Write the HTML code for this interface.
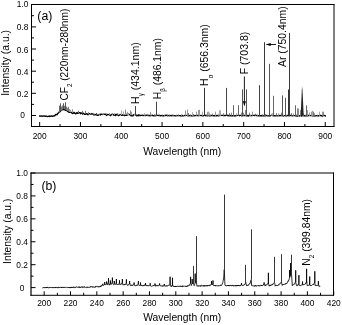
<!DOCTYPE html>
<html><head><meta charset="utf-8"><style>
html,body{margin:0;padding:0;background:#fff;}
svg{display:block;}
text{font-family:"Liberation Sans", Arial, sans-serif;fill:#000;}
</style></head><body>
<svg width="342" height="325" viewBox="0 0 342 325">
<rect width="342" height="325" fill="#fff"/>
<line x1="31.5" y1="4.0" x2="31.5" y2="127.0" stroke="#000" stroke-width="1"/>
<line x1="31.0" y1="4.5" x2="334.5" y2="4.5" stroke="#000" stroke-width="1"/>
<line x1="31.0" y1="126.5" x2="334.5" y2="126.5" stroke="#000" stroke-width="1"/>
<line x1="334.0" y1="4.0" x2="334.0" y2="127.0" stroke="#000" stroke-width="1.0"/>
<line x1="31.5" y1="115.5" x2="36.0" y2="115.5" stroke="#000" stroke-width="1"/>
<line x1="31.5" y1="104.4" x2="34.0" y2="104.4" stroke="#000" stroke-width="1"/>
<line x1="31.5" y1="93.3" x2="36.0" y2="93.3" stroke="#000" stroke-width="1"/>
<line x1="31.5" y1="82.2" x2="34.0" y2="82.2" stroke="#000" stroke-width="1"/>
<line x1="31.5" y1="71.2" x2="36.0" y2="71.2" stroke="#000" stroke-width="1"/>
<line x1="31.5" y1="60.1" x2="34.0" y2="60.1" stroke="#000" stroke-width="1"/>
<line x1="31.5" y1="49.0" x2="36.0" y2="49.0" stroke="#000" stroke-width="1"/>
<line x1="31.5" y1="37.9" x2="34.0" y2="37.9" stroke="#000" stroke-width="1"/>
<line x1="31.5" y1="26.9" x2="36.0" y2="26.9" stroke="#000" stroke-width="1"/>
<line x1="31.5" y1="15.7" x2="34.0" y2="15.7" stroke="#000" stroke-width="1"/>
<line x1="31.5" y1="4.5" x2="36.0" y2="4.5" stroke="#000" stroke-width="1"/>
<text x="22.6" y="118.05" font-size="8.4" text-anchor="middle">0</text>
<text x="22.6" y="96.75" font-size="8.4" text-anchor="middle">0.2</text>
<text x="22.6" y="74.75" font-size="8.4" text-anchor="middle">0.4</text>
<text x="22.6" y="52.6" font-size="8.4" text-anchor="middle">0.6</text>
<text x="22.6" y="30.45" font-size="8.4" text-anchor="middle">0.8</text>
<text x="22.6" y="7.45" font-size="8.4" text-anchor="middle">1.0</text>
<line x1="39.66" y1="126.5" x2="39.66" y2="122.0" stroke="#000" stroke-width="1"/>
<line x1="60.06" y1="126.5" x2="60.06" y2="124.0" stroke="#000" stroke-width="1"/>
<line x1="80.46" y1="126.5" x2="80.46" y2="122.0" stroke="#000" stroke-width="1"/>
<line x1="100.86" y1="126.5" x2="100.86" y2="124.0" stroke="#000" stroke-width="1"/>
<line x1="121.25999999999999" y1="126.5" x2="121.25999999999999" y2="122.0" stroke="#000" stroke-width="1"/>
<line x1="141.66" y1="126.5" x2="141.66" y2="124.0" stroke="#000" stroke-width="1"/>
<line x1="162.06" y1="126.5" x2="162.06" y2="122.0" stroke="#000" stroke-width="1"/>
<line x1="182.45999999999998" y1="126.5" x2="182.45999999999998" y2="124.0" stroke="#000" stroke-width="1"/>
<line x1="202.85999999999999" y1="126.5" x2="202.85999999999999" y2="122.0" stroke="#000" stroke-width="1"/>
<line x1="223.26" y1="126.5" x2="223.26" y2="124.0" stroke="#000" stroke-width="1"/>
<line x1="243.66" y1="126.5" x2="243.66" y2="122.0" stroke="#000" stroke-width="1"/>
<line x1="264.05999999999995" y1="126.5" x2="264.05999999999995" y2="124.0" stroke="#000" stroke-width="1"/>
<line x1="284.46" y1="126.5" x2="284.46" y2="122.0" stroke="#000" stroke-width="1"/>
<line x1="304.85999999999996" y1="126.5" x2="304.85999999999996" y2="124.0" stroke="#000" stroke-width="1"/>
<line x1="325.26" y1="126.5" x2="325.26" y2="122.0" stroke="#000" stroke-width="1"/>
<text x="39.66" y="138.6" font-size="8.4" text-anchor="middle">200</text>
<text x="80.46" y="138.6" font-size="8.4" text-anchor="middle">300</text>
<text x="121.25999999999999" y="138.6" font-size="8.4" text-anchor="middle">400</text>
<text x="162.06" y="138.6" font-size="8.4" text-anchor="middle">500</text>
<text x="202.85999999999999" y="138.6" font-size="8.4" text-anchor="middle">600</text>
<text x="243.66" y="138.6" font-size="8.4" text-anchor="middle">700</text>
<text x="284.46" y="138.6" font-size="8.4" text-anchor="middle">800</text>
<text x="325.26" y="138.6" font-size="8.4" text-anchor="middle">900</text>
<text x="182.2" y="154.5" font-size="10.3" text-anchor="middle">Wavelength (nm)</text>
<text x="9.4" y="62.9" font-size="10.4" text-anchor="middle" transform="rotate(-90 9.4 62.9)">Intensity (a.u.)</text>
<text x="37.3" y="19.8" font-size="12.3" text-anchor="start">(a)</text>
<line x1="31.0" y1="172.5" x2="31.0" y2="295.8" stroke="#000" stroke-width="1.2"/>
<line x1="30.5" y1="173.0" x2="334.0" y2="173.0" stroke="#000" stroke-width="1.0"/>
<line x1="30.5" y1="295.3" x2="334.0" y2="295.3" stroke="#000" stroke-width="1"/>
<line x1="333.5" y1="172.5" x2="333.5" y2="295.8" stroke="#000" stroke-width="1.0"/>
<line x1="31.0" y1="287.6" x2="35.5" y2="287.6" stroke="#000" stroke-width="1"/>
<line x1="31.0" y1="276.14000000000004" x2="33.5" y2="276.14000000000004" stroke="#000" stroke-width="1"/>
<line x1="31.0" y1="264.68" x2="35.5" y2="264.68" stroke="#000" stroke-width="1"/>
<line x1="31.0" y1="253.22000000000003" x2="33.5" y2="253.22000000000003" stroke="#000" stroke-width="1"/>
<line x1="31.0" y1="241.76000000000002" x2="35.5" y2="241.76000000000002" stroke="#000" stroke-width="1"/>
<line x1="31.0" y1="230.3" x2="33.5" y2="230.3" stroke="#000" stroke-width="1"/>
<line x1="31.0" y1="218.84000000000003" x2="35.5" y2="218.84000000000003" stroke="#000" stroke-width="1"/>
<line x1="31.0" y1="207.38000000000002" x2="33.5" y2="207.38000000000002" stroke="#000" stroke-width="1"/>
<line x1="31.0" y1="195.92000000000002" x2="35.5" y2="195.92000000000002" stroke="#000" stroke-width="1"/>
<line x1="31.0" y1="184.46000000000004" x2="33.5" y2="184.46000000000004" stroke="#000" stroke-width="1"/>
<line x1="31.0" y1="173.00000000000003" x2="35.5" y2="173.00000000000003" stroke="#000" stroke-width="1"/>
<text x="22.2" y="290.6" font-size="8.4" text-anchor="middle">0</text>
<text x="22.2" y="267.68" font-size="8.4" text-anchor="middle">0.2</text>
<text x="22.2" y="244.76000000000002" font-size="8.4" text-anchor="middle">0.4</text>
<text x="22.2" y="221.84000000000003" font-size="8.4" text-anchor="middle">0.6</text>
<text x="22.2" y="198.92000000000002" font-size="8.4" text-anchor="middle">0.8</text>
<text x="22.2" y="176.00000000000003" font-size="8.4" text-anchor="middle">1.0</text>
<line x1="44.2" y1="295.3" x2="44.2" y2="291.3" stroke="#000" stroke-width="1"/>
<line x1="57.36" y1="295.3" x2="57.36" y2="292.8" stroke="#000" stroke-width="1"/>
<line x1="70.52000000000001" y1="295.3" x2="70.52000000000001" y2="291.3" stroke="#000" stroke-width="1"/>
<line x1="83.68" y1="295.3" x2="83.68" y2="292.8" stroke="#000" stroke-width="1"/>
<line x1="96.84" y1="295.3" x2="96.84" y2="291.3" stroke="#000" stroke-width="1"/>
<line x1="110.0" y1="295.3" x2="110.0" y2="292.8" stroke="#000" stroke-width="1"/>
<line x1="123.16000000000001" y1="295.3" x2="123.16000000000001" y2="291.3" stroke="#000" stroke-width="1"/>
<line x1="136.32" y1="295.3" x2="136.32" y2="292.8" stroke="#000" stroke-width="1"/>
<line x1="149.48000000000002" y1="295.3" x2="149.48000000000002" y2="291.3" stroke="#000" stroke-width="1"/>
<line x1="162.64000000000001" y1="295.3" x2="162.64000000000001" y2="292.8" stroke="#000" stroke-width="1"/>
<line x1="175.8" y1="295.3" x2="175.8" y2="291.3" stroke="#000" stroke-width="1"/>
<line x1="188.96000000000004" y1="295.3" x2="188.96000000000004" y2="292.8" stroke="#000" stroke-width="1"/>
<line x1="202.12" y1="295.3" x2="202.12" y2="291.3" stroke="#000" stroke-width="1"/>
<line x1="215.28000000000003" y1="295.3" x2="215.28000000000003" y2="292.8" stroke="#000" stroke-width="1"/>
<line x1="228.44" y1="295.3" x2="228.44" y2="291.3" stroke="#000" stroke-width="1"/>
<line x1="241.60000000000002" y1="295.3" x2="241.60000000000002" y2="292.8" stroke="#000" stroke-width="1"/>
<line x1="254.76" y1="295.3" x2="254.76" y2="291.3" stroke="#000" stroke-width="1"/>
<line x1="267.92" y1="295.3" x2="267.92" y2="292.8" stroke="#000" stroke-width="1"/>
<line x1="281.08000000000004" y1="295.3" x2="281.08000000000004" y2="291.3" stroke="#000" stroke-width="1"/>
<line x1="294.24" y1="295.3" x2="294.24" y2="292.8" stroke="#000" stroke-width="1"/>
<line x1="307.4" y1="295.3" x2="307.4" y2="291.3" stroke="#000" stroke-width="1"/>
<line x1="320.56" y1="295.3" x2="320.56" y2="292.8" stroke="#000" stroke-width="1"/>
<line x1="333.72" y1="295.3" x2="333.72" y2="291.3" stroke="#000" stroke-width="1"/>
<text x="44.2" y="306.4" font-size="8.4" text-anchor="middle">200</text>
<text x="70.52000000000001" y="306.4" font-size="8.4" text-anchor="middle">220</text>
<text x="96.84" y="306.4" font-size="8.4" text-anchor="middle">240</text>
<text x="123.16000000000001" y="306.4" font-size="8.4" text-anchor="middle">260</text>
<text x="149.48000000000002" y="306.4" font-size="8.4" text-anchor="middle">280</text>
<text x="175.8" y="306.4" font-size="8.4" text-anchor="middle">300</text>
<text x="202.12" y="306.4" font-size="8.4" text-anchor="middle">320</text>
<text x="228.44" y="306.4" font-size="8.4" text-anchor="middle">340</text>
<text x="254.76" y="306.4" font-size="8.4" text-anchor="middle">360</text>
<text x="281.08000000000004" y="306.4" font-size="8.4" text-anchor="middle">380</text>
<text x="307.4" y="306.4" font-size="8.4" text-anchor="middle">400</text>
<text x="333.72" y="306.4" font-size="8.4" text-anchor="middle">420</text>
<text x="182.2" y="321.2" font-size="10.3" text-anchor="middle">Wavelength (nm)</text>
<text x="11.1" y="231.3" font-size="10.3" text-anchor="middle" transform="rotate(-90 11.1 231.3)">Intensity (a.u.)</text>
<text x="41.4" y="189.6" font-size="12.3" text-anchor="start">(b)</text>
<path d="M39.00,116.09 L39.50,116.00 L40.00,116.30 L40.50,115.96 L41.00,116.24 L41.50,116.14 L42.00,115.96 L42.50,116.24 L43.00,115.96 L43.50,116.20 L44.00,115.99 L44.50,116.00 L45.00,116.21 L45.50,116.46 L46.00,116.04 L46.50,116.10 L47.00,116.35 L47.50,116.55 L48.00,116.33 L48.50,116.22 L49.00,116.58 L49.50,116.02 L50.00,116.52 L50.50,116.14 L51.00,116.01 L51.50,115.96 L52.00,116.04 L52.50,116.30 L53.00,115.88 L53.50,116.09 L54.00,116.22 L54.50,115.56 L55.00,115.61 L55.50,114.60 L56.00,114.36 L56.50,114.36 L57.00,114.89 L57.50,113.91 L58.00,113.15 L58.50,113.01 L59.00,112.23 L59.50,111.50 L60.00,111.81 L60.50,111.18 L61.00,109.97 L61.50,110.02 L62.00,109.61 L62.50,109.87 L63.00,109.34 L63.50,108.56 L64.00,109.93 L64.50,108.81 L65.00,109.55 L65.50,110.35 L66.00,109.64 L66.50,110.45 L67.00,110.00 L67.50,111.27 L68.00,111.69 L68.50,111.65 L69.00,112.40 L69.50,111.64 L70.00,112.39 L70.50,112.36 L71.00,112.48 L71.50,112.42 L72.00,113.17 L72.50,113.47 L73.00,112.86 L73.50,113.19 L74.00,112.25 L74.50,113.31 L75.00,113.25 L75.50,113.83 L76.00,113.59 L76.50,112.76 L77.00,112.95 L77.50,113.43 L78.00,112.42 L78.50,113.15 L79.00,112.71 L79.50,112.66 L80.00,112.59 L80.50,113.77 L81.00,112.80 L81.50,113.03 L82.00,113.31 L82.50,114.12 L83.00,112.90 L83.50,113.53 L84.00,113.74 L84.50,114.32 L85.00,114.26 L85.50,114.38 L86.00,113.49 L86.50,113.75 L87.00,113.70 L87.50,114.59 L88.00,114.75 L88.50,113.51 L89.00,113.59 L89.50,113.73 L90.00,113.77 L90.50,114.21 L91.00,114.40 L91.50,113.91 L92.00,113.53 L92.50,114.22 L93.00,114.17 L93.50,114.52 L94.00,115.16 L94.50,114.77 L95.00,114.52 L95.50,114.72 L96.00,114.84 L96.50,113.88 L97.00,115.26 L97.50,115.10 L98.00,115.28 L98.50,115.19 L99.00,114.57 L99.50,114.61 L100.00,114.17 L100.50,115.02 L101.00,114.11 L101.50,114.12 L102.00,114.35 L102.50,114.28 L103.00,114.56 L103.50,114.11 L104.00,114.03 L104.50,114.27 L105.00,114.20 L105.50,114.62 L106.00,114.08 L106.50,115.44 L107.00,115.03 L107.50,114.29 L108.00,114.46 L108.50,114.61 L109.00,114.64 L109.50,114.26 L110.00,115.42 L110.50,115.66 L111.00,114.82 L111.50,114.85 L112.00,114.22 L112.50,114.25 L113.00,114.63 L113.50,114.51 L114.00,115.42 L114.50,114.35 L115.00,114.14 L115.50,115.62 L116.00,114.95 L116.50,114.33 L117.00,114.97 L117.50,114.14 L118.00,114.94 L118.50,115.67 L119.00,115.48 L119.50,115.21 L120.00,114.52 L120.50,114.69 L121.00,114.37 L121.50,115.34 L122.00,114.95 L122.50,115.35 L123.00,114.63 L123.50,114.46 L124.00,115.40 L124.50,115.68 L125.00,115.46 L125.50,115.40 L126.00,115.44 L126.50,115.32 L127.00,114.52 L127.50,114.99 L128.00,114.75 L128.50,114.24 L129.00,114.25 L129.50,114.67 L130.00,114.65 L130.50,115.35 L131.00,115.79 L131.50,114.99 L132.00,115.79 L132.50,115.88 L133.00,115.84 L133.50,114.91 L134.00,114.69 L134.50,114.72 L135.00,114.68 L135.50,114.71 L136.00,115.39 L136.50,115.85 L137.00,115.76 L137.50,115.20 L138.00,115.49 L138.50,115.74 L139.00,114.61 L139.50,115.54 L140.00,115.59 L140.50,115.51 L141.00,115.49 L141.50,115.31 L142.00,115.10 L142.50,115.54 L143.00,115.23 L143.50,115.56 L144.00,115.69 L144.50,115.29 L145.00,115.31 L145.50,115.70 L146.00,115.55 L146.50,115.17 L147.00,115.14 L147.50,115.17 L148.00,115.70 L148.50,115.64 L149.00,115.19 L149.50,115.67 L150.00,115.79 L150.50,115.57 L151.00,115.36 L151.50,115.51 L152.00,115.22 L152.50,115.15 L153.00,115.82 L153.50,115.61 L154.00,115.53 L154.50,115.82 L155.00,115.48 L155.50,115.79 L156.00,115.77 L156.50,115.35 L157.00,115.38 L157.50,115.42 L158.00,115.39 L158.50,115.64 L159.00,115.42 L159.50,115.54 L160.00,115.34 L160.50,115.89 L161.00,115.50 L161.50,115.57 L162.00,115.66 L162.50,115.88 L163.00,115.54 L163.50,115.89 L164.00,115.60 L164.50,115.62 L165.00,115.62 L165.50,115.26 L166.00,115.56 L166.50,115.38 L167.00,115.25 L167.50,115.81 L168.00,115.37 L168.50,115.58 L169.00,115.76 L169.50,115.64 L170.00,115.48 L170.50,115.61 L171.00,115.64 L171.50,115.80 L172.00,115.32 L172.50,115.64 L173.00,115.42 L173.50,115.44 L174.00,115.79 L174.50,115.61 L175.00,115.64 L175.50,115.78 L176.00,115.89 L176.50,115.56 L177.00,115.68 L177.50,115.60 L178.00,115.61 L178.50,115.73 L179.00,115.57 L179.50,115.62 L180.00,115.58 L180.50,115.91 L181.00,115.74 L181.50,115.86 L182.00,115.91 L182.50,115.43 L183.00,115.64 L183.50,115.91 L184.00,115.84 L184.50,115.35 L185.00,115.34 L185.50,115.56 L186.00,115.30 L186.50,115.42 L187.00,115.30 L187.50,115.72 L188.00,115.80 L188.50,115.88 L189.00,115.36 L189.50,115.75 L190.00,115.71 L190.50,115.35 L191.00,115.87 L191.50,115.93 L192.00,115.40 L192.50,115.92 L193.00,115.53 L193.50,115.59 L194.00,115.94 L194.50,115.83 L195.00,115.36 L195.50,115.55 L196.00,115.61 L196.50,115.49 L197.00,115.39 L197.50,115.47 L198.00,115.76 L198.50,115.26 L199.00,115.64 L199.50,115.56 L200.00,115.26 L200.50,115.48 L201.00,115.69 L201.50,115.61 L202.00,115.30 L202.50,115.94 L203.00,115.80 L203.50,115.93 L204.00,115.33 L204.50,115.44 L205.00,115.28 L205.50,115.80 L206.00,115.44 L206.50,115.35 L207.00,115.55 L207.50,115.89 L208.00,115.83 L208.50,115.44 L209.00,115.36 L209.50,115.90 L210.00,115.66 L210.50,115.75 L211.00,115.32 L211.50,115.30 L212.00,115.74 L212.50,115.56 L213.00,115.31 L213.50,115.92 L214.00,115.71 L214.50,115.82 L215.00,115.32 L215.50,115.86 L216.00,115.31 L216.50,115.87 L217.00,115.58 L217.50,115.50 L218.00,115.65 L218.50,115.91 L219.00,115.45 L219.50,115.36 L220.00,115.63 L220.50,115.43 L221.00,115.34 L221.50,115.38 L222.00,115.30 L222.50,115.41 L223.00,115.49 L223.50,115.48 L224.00,115.80 L224.50,115.47 L225.00,115.62 L225.50,115.39 L226.00,115.51 L226.50,115.28 L227.00,115.45 L227.50,115.28 L228.00,115.79 L228.50,115.66 L229.00,115.41 L229.50,115.61 L230.00,115.93 L230.50,115.35 L231.00,115.85 L231.50,115.58 L232.00,115.62 L232.50,115.86 L233.00,115.55 L233.50,115.63 L234.00,115.76 L234.50,115.97 L235.00,115.52 L235.50,115.86 L236.00,115.77 L236.50,115.72 L237.00,115.56 L237.50,115.52 L238.00,115.32 L238.50,115.37 L239.00,115.33 L239.50,115.80 L240.00,115.46 L240.50,115.40 L241.00,115.34 L241.50,115.87 L242.00,115.89 L242.50,115.75 L243.00,115.48 L243.50,115.45 L244.00,115.49 L244.50,115.61 L245.00,115.40 L245.50,115.60 L246.00,115.47 L246.50,115.96 L247.00,115.97 L247.50,115.67 L248.00,115.46 L248.50,115.96 L249.00,115.51 L249.50,115.54 L250.00,115.29 L250.50,115.56 L251.00,115.62 L251.50,115.64 L252.00,115.43 L252.50,115.64 L253.00,115.30 L253.50,115.48 L254.00,115.36 L254.50,115.57 L255.00,115.32 L255.50,115.31 L256.00,115.51 L256.50,115.46 L257.00,115.71 L257.50,115.67 L258.00,115.82 L258.50,115.76 L259.00,115.80 L259.50,115.91 L260.00,115.57 L260.50,115.53 L261.00,115.99 L261.50,115.40 L262.00,115.81 L262.50,115.75 L263.00,115.33 L263.50,115.89 L264.00,115.93 L264.50,115.74 L265.00,115.82 L265.50,115.87 L266.00,115.40 L266.50,115.67 L267.00,115.66 L267.50,115.89 L268.00,115.87 L268.50,115.88 L269.00,115.71 L269.50,115.93 L270.00,115.78 L270.50,115.79 L271.00,115.47 L271.50,115.33 L272.00,115.40 L272.50,115.56 L273.00,115.38 L273.50,115.89 L274.00,115.70 L274.50,115.75 L275.00,115.75 L275.50,115.79 L276.00,115.65 L276.50,115.31 L277.00,115.87 L277.50,115.84 L278.00,115.66 L278.50,115.69 L279.00,115.77 L279.50,115.36 L280.00,115.83 L280.50,115.49 L281.00,115.37 L281.50,115.50 L282.00,115.83 L282.50,115.46 L283.00,115.83 L283.50,116.00 L284.00,115.66 L284.50,115.58 L285.00,115.65 L285.50,115.80 L286.00,115.86 L286.50,115.75 L287.00,115.77 L287.50,115.37 L288.00,115.42 L288.50,115.50 L289.00,115.84 L289.50,115.53 L290.00,115.72 L290.50,115.33 L291.00,115.36 L291.50,115.51 L292.00,115.79 L292.50,115.81 L293.00,115.80 L293.50,115.53 L294.00,115.69 L294.50,115.65 L295.00,115.65 L295.50,115.41 L296.00,115.95 L296.50,115.47 L297.00,116.01 L297.50,115.98 L298.00,115.34 L298.50,115.65 L299.00,115.90 L299.50,116.01 L300.00,115.64 L300.50,115.52 L301.00,115.48 L301.50,115.99 L302.00,115.48 L302.50,115.74 L303.00,115.43 L303.50,115.70 L304.00,116.00 L304.50,115.43 L305.00,115.91 L305.50,115.69 L306.00,115.95 L306.50,115.83 L307.00,115.50 L307.50,115.96 L308.00,115.68 L308.50,115.35 L309.00,115.34 L309.50,115.68 L310.00,115.65 L310.50,115.55 L311.00,115.44 L311.50,115.58 L312.00,115.56 L312.50,115.93 L313.00,115.34 L313.50,115.87 L314.00,115.93 L314.50,115.42 L315.00,115.99 L315.50,115.84 L316.00,115.97 L316.50,115.55 L317.00,115.60 L317.50,115.62 L318.00,116.04 L318.50,115.76 L319.00,115.60 L319.50,115.64 L320.00,115.54 L320.50,115.38 L321.00,115.42 L321.50,115.93 L322.00,115.55 L322.50,116.00 L323.00,115.52 L323.50,115.53 L324.00,115.71 L324.50,115.48 L325.00,115.61 L325.50,116.02 L326.00,115.97" fill="none" stroke="#000" stroke-width="1.3" stroke-linejoin="round"/>
<line x1="88.5" y1="114.02" x2="88.5" y2="112.52" stroke="#777" stroke-width="1"/>
<line x1="90.5" y1="114.21" x2="90.5" y2="113.21" stroke="#999" stroke-width="1"/>
<line x1="93.5" y1="114.40" x2="93.5" y2="112.90" stroke="#999" stroke-width="1"/>
<line x1="94.5" y1="114.48" x2="94.5" y2="113.48" stroke="#999" stroke-width="1"/>
<line x1="96.5" y1="114.57" x2="96.5" y2="114.07" stroke="#777" stroke-width="1"/>
<line x1="99.5" y1="114.77" x2="99.5" y2="113.77" stroke="#888" stroke-width="1"/>
<line x1="102.5" y1="114.82" x2="102.5" y2="114.32" stroke="#888" stroke-width="1"/>
<line x1="103.5" y1="114.83" x2="103.5" y2="113.83" stroke="#888" stroke-width="1"/>
<line x1="106.5" y1="114.85" x2="106.5" y2="113.85" stroke="#777" stroke-width="1"/>
<line x1="109.5" y1="114.86" x2="109.5" y2="113.86" stroke="#999" stroke-width="1"/>
<line x1="112.5" y1="114.88" x2="112.5" y2="113.38" stroke="#888" stroke-width="1"/>
<line x1="114.5" y1="114.90" x2="114.5" y2="113.40" stroke="#aaa" stroke-width="1"/>
<line x1="117.5" y1="114.90" x2="117.5" y2="114.40" stroke="#aaa" stroke-width="1"/>
<line x1="118.5" y1="114.90" x2="118.5" y2="113.90" stroke="#aaa" stroke-width="1"/>
<line x1="120.5" y1="114.90" x2="120.5" y2="114.40" stroke="#777" stroke-width="1"/>
<line x1="121.5" y1="114.90" x2="121.5" y2="113.90" stroke="#777" stroke-width="1"/>
<line x1="123.5" y1="114.90" x2="123.5" y2="114.40" stroke="#888" stroke-width="1"/>
<line x1="124.5" y1="114.90" x2="124.5" y2="114.40" stroke="#777" stroke-width="1"/>
<line x1="126.5" y1="114.95" x2="126.5" y2="113.45" stroke="#777" stroke-width="1"/>
<line x1="128.5" y1="114.98" x2="128.5" y2="113.98" stroke="#aaa" stroke-width="1"/>
<line x1="130.5" y1="115.04" x2="130.5" y2="114.04" stroke="#aaa" stroke-width="1"/>
<line x1="131.5" y1="115.07" x2="131.5" y2="113.57" stroke="#888" stroke-width="1"/>
<line x1="132.5" y1="115.11" x2="132.5" y2="114.61" stroke="#888" stroke-width="1"/>
<line x1="134.5" y1="115.14" x2="134.5" y2="113.64" stroke="#999" stroke-width="1"/>
<line x1="136.5" y1="115.22" x2="136.5" y2="114.22" stroke="#777" stroke-width="1"/>
<line x1="139.5" y1="115.28" x2="139.5" y2="114.28" stroke="#777" stroke-width="1"/>
<line x1="142.5" y1="115.33" x2="142.5" y2="114.83" stroke="#777" stroke-width="1"/>
<line x1="144.5" y1="115.36" x2="144.5" y2="114.36" stroke="#888" stroke-width="1"/>
<line x1="145.5" y1="115.39" x2="145.5" y2="114.39" stroke="#888" stroke-width="1"/>
<line x1="147.5" y1="115.42" x2="147.5" y2="113.92" stroke="#888" stroke-width="1"/>
<line x1="148.5" y1="115.43" x2="148.5" y2="114.43" stroke="#999" stroke-width="1"/>
<line x1="151.5" y1="115.47" x2="151.5" y2="114.97" stroke="#aaa" stroke-width="1"/>
<line x1="154.5" y1="115.51" x2="154.5" y2="114.01" stroke="#888" stroke-width="1"/>
<line x1="155.5" y1="115.54" x2="155.5" y2="114.54" stroke="#999" stroke-width="1"/>
<line x1="156.5" y1="115.55" x2="156.5" y2="114.55" stroke="#aaa" stroke-width="1"/>
<line x1="159.5" y1="115.59" x2="159.5" y2="114.59" stroke="#777" stroke-width="1"/>
<line x1="162.5" y1="115.60" x2="162.5" y2="114.60" stroke="#777" stroke-width="1"/>
<line x1="164.5" y1="115.60" x2="164.5" y2="114.60" stroke="#aaa" stroke-width="1"/>
<line x1="167.5" y1="115.60" x2="167.5" y2="114.60" stroke="#999" stroke-width="1"/>
<line x1="169.5" y1="115.60" x2="169.5" y2="114.60" stroke="#777" stroke-width="1"/>
<line x1="172.5" y1="115.60" x2="172.5" y2="115.10" stroke="#777" stroke-width="1"/>
<line x1="173.5" y1="115.60" x2="173.5" y2="115.10" stroke="#888" stroke-width="1"/>
<line x1="176.5" y1="115.60" x2="176.5" y2="114.60" stroke="#999" stroke-width="1"/>
<line x1="178.5" y1="115.60" x2="178.5" y2="114.10" stroke="#aaa" stroke-width="1"/>
<line x1="181.5" y1="115.60" x2="181.5" y2="114.10" stroke="#aaa" stroke-width="1"/>
<line x1="183.5" y1="115.60" x2="183.5" y2="115.10" stroke="#999" stroke-width="1"/>
<line x1="185.5" y1="115.60" x2="185.5" y2="112.60" stroke="#888" stroke-width="1"/>
<line x1="187.5" y1="115.60" x2="187.5" y2="114.10" stroke="#888" stroke-width="1"/>
<line x1="188.5" y1="115.60" x2="188.5" y2="113.10" stroke="#777" stroke-width="1"/>
<line x1="190.5" y1="115.60" x2="190.5" y2="114.60" stroke="#999" stroke-width="1"/>
<line x1="192.5" y1="115.60" x2="192.5" y2="112.60" stroke="#999" stroke-width="1"/>
<line x1="193.5" y1="115.60" x2="193.5" y2="114.10" stroke="#777" stroke-width="1"/>
<line x1="196.5" y1="115.60" x2="196.5" y2="111.60" stroke="#999" stroke-width="1"/>
<line x1="199.5" y1="115.60" x2="199.5" y2="114.60" stroke="#777" stroke-width="1"/>
<line x1="202.5" y1="115.60" x2="202.5" y2="111.60" stroke="#aaa" stroke-width="1"/>
<line x1="206.5" y1="115.60" x2="206.5" y2="114.60" stroke="#888" stroke-width="1"/>
<line x1="208.5" y1="115.61" x2="208.5" y2="111.61" stroke="#aaa" stroke-width="1"/>
<line x1="210.5" y1="115.61" x2="210.5" y2="114.61" stroke="#888" stroke-width="1"/>
<line x1="212.5" y1="115.61" x2="212.5" y2="113.61" stroke="#888" stroke-width="1"/>
<line x1="215.5" y1="115.61" x2="215.5" y2="111.61" stroke="#999" stroke-width="1"/>
<line x1="218.5" y1="115.62" x2="218.5" y2="113.62" stroke="#aaa" stroke-width="1"/>
<line x1="220.5" y1="115.62" x2="220.5" y2="113.12" stroke="#888" stroke-width="1"/>
<line x1="223.5" y1="115.62" x2="223.5" y2="113.12" stroke="#888" stroke-width="1"/>
<line x1="226.5" y1="115.62" x2="226.5" y2="112.62" stroke="#888" stroke-width="1"/>
<line x1="229.5" y1="115.62" x2="229.5" y2="113.12" stroke="#777" stroke-width="1"/>
<line x1="231.5" y1="115.63" x2="231.5" y2="112.63" stroke="#888" stroke-width="1"/>
<line x1="233.5" y1="115.63" x2="233.5" y2="111.63" stroke="#888" stroke-width="1"/>
<line x1="236.5" y1="115.63" x2="236.5" y2="113.13" stroke="#aaa" stroke-width="1"/>
<line x1="238.5" y1="115.63" x2="238.5" y2="111.63" stroke="#777" stroke-width="1"/>
<line x1="241.5" y1="115.63" x2="241.5" y2="112.63" stroke="#888" stroke-width="1"/>
<line x1="243.5" y1="115.63" x2="243.5" y2="112.63" stroke="#888" stroke-width="1"/>
<line x1="245.5" y1="115.64" x2="245.5" y2="114.64" stroke="#777" stroke-width="1"/>
<line x1="246.5" y1="115.64" x2="246.5" y2="111.64" stroke="#888" stroke-width="1"/>
<line x1="249.5" y1="115.64" x2="249.5" y2="112.64" stroke="#777" stroke-width="1"/>
<line x1="250.5" y1="115.64" x2="250.5" y2="114.64" stroke="#aaa" stroke-width="1"/>
<line x1="252.5" y1="115.64" x2="252.5" y2="111.64" stroke="#999" stroke-width="1"/>
<line x1="255.5" y1="115.64" x2="255.5" y2="113.64" stroke="#777" stroke-width="1"/>
<line x1="257.5" y1="115.65" x2="257.5" y2="114.15" stroke="#aaa" stroke-width="1"/>
<line x1="259.5" y1="115.65" x2="259.5" y2="113.65" stroke="#999" stroke-width="1"/>
<line x1="262.5" y1="115.65" x2="262.5" y2="114.15" stroke="#999" stroke-width="1"/>
<line x1="264.5" y1="115.65" x2="264.5" y2="112.65" stroke="#aaa" stroke-width="1"/>
<line x1="265.5" y1="115.65" x2="265.5" y2="114.15" stroke="#777" stroke-width="1"/>
<line x1="267.5" y1="115.65" x2="267.5" y2="114.65" stroke="#888" stroke-width="1"/>
<line x1="271.5" y1="115.66" x2="271.5" y2="113.66" stroke="#999" stroke-width="1"/>
<line x1="272.5" y1="115.66" x2="272.5" y2="113.16" stroke="#aaa" stroke-width="1"/>
<line x1="276.5" y1="115.66" x2="276.5" y2="113.16" stroke="#777" stroke-width="1"/>
<line x1="278.5" y1="115.66" x2="278.5" y2="113.16" stroke="#aaa" stroke-width="1"/>
<line x1="281.5" y1="115.66" x2="281.5" y2="112.66" stroke="#777" stroke-width="1"/>
<line x1="283.5" y1="115.67" x2="283.5" y2="114.67" stroke="#aaa" stroke-width="1"/>
<line x1="286.5" y1="115.67" x2="286.5" y2="114.67" stroke="#aaa" stroke-width="1"/>
<line x1="289.5" y1="115.67" x2="289.5" y2="113.67" stroke="#888" stroke-width="1"/>
<line x1="291.5" y1="115.67" x2="291.5" y2="113.17" stroke="#777" stroke-width="1"/>
<line x1="293.5" y1="115.67" x2="293.5" y2="113.67" stroke="#999" stroke-width="1"/>
<line x1="296.5" y1="115.68" x2="296.5" y2="114.68" stroke="#888" stroke-width="1"/>
<line x1="298.5" y1="115.68" x2="298.5" y2="111.68" stroke="#aaa" stroke-width="1"/>
<line x1="302.5" y1="115.68" x2="302.5" y2="111.68" stroke="#999" stroke-width="1"/>
<line x1="303.5" y1="115.68" x2="303.5" y2="113.18" stroke="#aaa" stroke-width="1"/>
<line x1="305.5" y1="115.68" x2="305.5" y2="114.68" stroke="#777" stroke-width="1"/>
<line x1="307.5" y1="115.69" x2="307.5" y2="114.69" stroke="#999" stroke-width="1"/>
<line x1="309.5" y1="115.69" x2="309.5" y2="113.69" stroke="#999" stroke-width="1"/>
<line x1="311.5" y1="115.69" x2="311.5" y2="111.69" stroke="#999" stroke-width="1"/>
<line x1="313.5" y1="115.69" x2="313.5" y2="111.69" stroke="#777" stroke-width="1"/>
<line x1="314.5" y1="115.69" x2="314.5" y2="113.19" stroke="#999" stroke-width="1"/>
<line x1="317.5" y1="115.69" x2="317.5" y2="114.69" stroke="#777" stroke-width="1"/>
<line x1="319.5" y1="115.70" x2="319.5" y2="111.70" stroke="#aaa" stroke-width="1"/>
<line x1="322.5" y1="115.70" x2="322.5" y2="111.70" stroke="#999" stroke-width="1"/>
<line x1="323.5" y1="115.70" x2="323.5" y2="111.70" stroke="#888" stroke-width="1"/>
<line x1="59.5" y1="112.20" x2="59.5" y2="105.7" stroke="#666" stroke-width="1"/>
<line x1="60.5" y1="111.15" x2="60.5" y2="103.3" stroke="#555" stroke-width="1"/>
<line x1="61.5" y1="110.38" x2="61.5" y2="106.5" stroke="#777" stroke-width="1"/>
<line x1="62.5" y1="109.56" x2="62.5" y2="105.5" stroke="#777" stroke-width="1"/>
<line x1="63.5" y1="108.85" x2="63.5" y2="103.3" stroke="#555" stroke-width="1"/>
<line x1="64.5" y1="109.32" x2="64.5" y2="105.8" stroke="#777" stroke-width="1"/>
<line x1="65.5" y1="109.73" x2="65.5" y2="102.2" stroke="#555" stroke-width="1"/>
<line x1="66.5" y1="110.41" x2="66.5" y2="106.5" stroke="#777" stroke-width="1"/>
<line x1="67.5" y1="110.89" x2="67.5" y2="107.8" stroke="#888" stroke-width="1"/>
<line x1="68.5" y1="111.37" x2="68.5" y2="106.8" stroke="#777" stroke-width="1"/>
<line x1="69.5" y1="111.97" x2="69.5" y2="109" stroke="#999" stroke-width="1"/>
<line x1="70.5" y1="112.30" x2="70.5" y2="109.8" stroke="#999" stroke-width="1"/>
<line x1="72.5" y1="112.65" x2="72.5" y2="109.2" stroke="#999" stroke-width="1"/>
<line x1="78.5" y1="113.22" x2="78.5" y2="110.8" stroke="#777" stroke-width="1"/>
<line x1="82.5" y1="113.49" x2="82.5" y2="110.8" stroke="#777" stroke-width="1"/>
<line x1="85.5" y1="113.77" x2="85.5" y2="110.8" stroke="#777" stroke-width="1"/>
<line x1="121.5" y1="114.90" x2="121.5" y2="110.5" stroke="#aaa" stroke-width="1"/>
<line x1="123.5" y1="114.90" x2="123.5" y2="111.5" stroke="#aaa" stroke-width="1"/>
<line x1="125.5" y1="114.90" x2="125.5" y2="109.6" stroke="#888" stroke-width="1"/>
<line x1="127.5" y1="114.95" x2="127.5" y2="111.8" stroke="#999" stroke-width="1"/>
<line x1="130.5" y1="115.04" x2="130.5" y2="110.4" stroke="#888" stroke-width="1"/>
<line x1="131.5" y1="115.08" x2="131.5" y2="111.8" stroke="#999" stroke-width="1"/>
<line x1="135.5" y1="115.18" x2="135.5" y2="106.0" stroke="#444" stroke-width="1"/>
<line x1="144.5" y1="115.36" x2="144.5" y2="113.2" stroke="#aaa" stroke-width="1"/>
<line x1="150.5" y1="115.45" x2="150.5" y2="111.8" stroke="#999" stroke-width="1"/>
<line x1="156.5" y1="115.55" x2="156.5" y2="101.8" stroke="#444" stroke-width="1"/>
<line x1="185.5" y1="115.60" x2="185.5" y2="110.5" stroke="#999" stroke-width="1"/>
<line x1="187.5" y1="115.60" x2="187.5" y2="109.6" stroke="#999" stroke-width="1"/>
<line x1="192.5" y1="115.60" x2="192.5" y2="112.3" stroke="#aaa" stroke-width="1"/>
<line x1="198.5" y1="115.60" x2="198.5" y2="110" stroke="#999" stroke-width="1"/>
<line x1="199.5" y1="115.60" x2="199.5" y2="109.8" stroke="#999" stroke-width="1"/>
<line x1="204.5" y1="115.60" x2="204.5" y2="87.9" stroke="#333" stroke-width="1"/>
<line x1="207.5" y1="115.61" x2="207.5" y2="111.8" stroke="#999" stroke-width="1"/>
<line x1="209.5" y1="115.61" x2="209.5" y2="112.5" stroke="#aaa" stroke-width="1"/>
<line x1="215.5" y1="115.61" x2="215.5" y2="112" stroke="#999" stroke-width="1"/>
<line x1="219.5" y1="115.62" x2="219.5" y2="110" stroke="#aaa" stroke-width="1"/>
<line x1="220.5" y1="115.62" x2="220.5" y2="110.5" stroke="#aaa" stroke-width="1"/>
<line x1="226.5" y1="115.62" x2="226.5" y2="87.9" stroke="#444" stroke-width="1"/>
<line x1="233.5" y1="115.63" x2="233.5" y2="105.2" stroke="#666" stroke-width="1"/>
<line x1="238.5" y1="115.63" x2="238.5" y2="105.2" stroke="#666" stroke-width="1"/>
<line x1="242.5" y1="115.63" x2="242.5" y2="89.4" stroke="#555" stroke-width="1"/>
<line x1="246.5" y1="115.64" x2="246.5" y2="89.4" stroke="#555" stroke-width="1"/>
<line x1="245.5" y1="115.64" x2="245.5" y2="110" stroke="#888" stroke-width="1"/>
<line x1="259.5" y1="115.65" x2="259.5" y2="85.2" stroke="#444" stroke-width="1"/>
<line x1="264.5" y1="115.65" x2="264.5" y2="42.2" stroke="#3a3a3a" stroke-width="1"/>
<line x1="269.5" y1="115.66" x2="269.5" y2="63.8" stroke="#555" stroke-width="1"/>
<line x1="273.5" y1="115.66" x2="273.5" y2="95.8" stroke="#666" stroke-width="1"/>
<line x1="282.5" y1="115.67" x2="282.5" y2="95.4" stroke="#555" stroke-width="1"/>
<line x1="285.5" y1="115.67" x2="285.5" y2="97.8" stroke="#555" stroke-width="1"/>
<line x1="289.5" y1="115.67" x2="289.5" y2="33.0" stroke="#3a3a3a" stroke-width="1"/>
<line x1="288.5" y1="115.67" x2="288.5" y2="89.5" stroke="#333" stroke-width="1"/>
<line x1="295.5" y1="115.68" x2="295.5" y2="105.3" stroke="#666" stroke-width="1"/>
<line x1="297.5" y1="115.68" x2="297.5" y2="108.3" stroke="#888" stroke-width="1"/>
<line x1="298.5" y1="115.68" x2="298.5" y2="108.6" stroke="#888" stroke-width="1"/>
<line x1="300.5" y1="115.68" x2="300.5" y2="110" stroke="#999" stroke-width="1"/>
<line x1="306.5" y1="115.68" x2="306.5" y2="105.3" stroke="#666" stroke-width="1"/>
<line x1="307.5" y1="115.69" x2="307.5" y2="110" stroke="#999" stroke-width="1"/>
<line x1="309.5" y1="115.69" x2="309.5" y2="112.4" stroke="#999" stroke-width="1"/>
<line x1="312.5" y1="115.69" x2="312.5" y2="110.8" stroke="#999" stroke-width="1"/>
<line x1="312.5" y1="115.69" x2="312.5" y2="111.5" stroke="#aaa" stroke-width="1"/>
<path d="M300.7,115.6 L301.8,90 L302.1,86.6 L302.5,90 L303.7,115.6 Z" fill="#222"/>
<text x="0" y="0" font-size="10.15" transform="translate(68.0 100.6) rotate(-90)">CF<tspan font-size="6.3" dy="3.9">2</tspan><tspan dy="-3.9"> (220nm-280nm)</tspan></text>
<text x="0" y="0" font-size="10.5" transform="translate(139.1 103.9) rotate(-90)">H<tspan font-size="6.3" dy="3.7">γ</tspan><tspan dy="-3.7"> (434.1nm)</tspan></text>
<text x="0" y="0" font-size="10.35" transform="translate(161.1 99.2) rotate(-90)">H<tspan font-size="6.3" dy="3.9">β</tspan><tspan dy="-3.9"> (486.1nm)</tspan></text>
<text x="0" y="0" font-size="10.45" transform="translate(208.2 85.9) rotate(-90)">H<tspan font-size="6.3" dy="4.3">α</tspan><tspan dy="-4.3"> (656.3nm)</tspan></text>
<text x="0" y="0" font-size="10.5" transform="translate(247.8 74.3) rotate(-90)">F (703.8)</text>
<text x="0" y="0" font-size="10.4" transform="translate(286.0 67.0) rotate(-90)">Ar (750.4nm)</text>
<line x1="244.4" y1="76.5" x2="244.4" y2="102.5" stroke="#000" stroke-width="0.9"/>
<path d="M242.9,101.2 L245.9,101.2 L244.4,106.5 Z" fill="#000"/>
<line x1="266.5" y1="44.5" x2="276.0" y2="44.5" stroke="#000" stroke-width="0.9"/>
<path d="M265.8,44.5 L270.8,42.9 L270.8,46.1 Z" fill="#000"/>
<path d="M42.50,288.04 L42.75,288.13 L43.00,288.12 L43.25,287.64 L43.50,287.91 L43.75,287.39 L44.00,288.04 L44.25,287.98 L44.50,287.42 L44.75,287.12 L45.00,287.52 L45.25,287.64 L45.50,287.87 L45.75,287.56 L46.00,287.06 L46.25,287.91 L46.50,287.09 L46.75,287.90 L47.00,287.21 L47.25,287.38 L47.50,287.88 L47.75,287.17 L48.00,287.17 L48.25,287.58 L48.50,287.80 L48.75,287.93 L49.00,287.76 L49.25,288.04 L49.50,287.54 L49.75,288.04 L50.00,287.09 L50.25,287.24 L50.50,287.57 L50.75,287.31 L51.00,287.79 L51.25,287.69 L51.50,287.56 L51.75,287.91 L52.00,287.60 L52.25,287.32 L52.50,287.40 L52.75,287.91 L53.00,287.96 L53.25,287.20 L53.50,287.91 L53.75,288.03 L54.00,287.54 L54.25,287.59 L54.50,287.18 L54.75,287.55 L55.00,287.51 L55.25,287.62 L55.50,286.99 L55.75,288.02 L56.00,287.52 L56.25,287.39 L56.50,287.83 L56.75,287.57 L57.00,287.48 L57.25,287.70 L57.50,287.01 L57.75,287.53 L58.00,287.39 L58.25,287.99 L58.50,287.95 L58.75,287.23 L59.00,287.45 L59.25,287.07 L59.50,287.40 L59.75,287.82 L60.00,287.91 L60.25,287.45 L60.50,287.27 L60.75,287.13 L61.00,287.60 L61.25,287.93 L61.50,287.05 L61.75,287.77 L62.00,286.93 L62.25,287.12 L62.50,287.15 L62.75,287.66 L63.00,287.26 L63.25,287.29 L63.50,287.58 L63.75,287.01 L64.00,287.70 L64.25,287.03 L64.50,287.45 L64.75,287.16 L65.00,287.10 L65.25,287.47 L65.50,287.36 L65.75,287.29 L66.00,287.33 L66.25,287.46 L66.50,287.05 L66.75,287.10 L67.00,287.57 L67.25,287.57 L67.50,287.45 L67.75,287.80 L68.00,287.54 L68.25,287.81 L68.50,287.12 L68.75,287.67 L69.00,287.75 L69.25,287.85 L69.50,287.20 L69.75,287.20 L70.00,287.87 L70.25,287.08 L70.50,287.94 L70.75,287.81 L71.00,286.98 L71.25,287.09 L71.50,287.62 L71.75,287.10 L72.00,286.92 L72.25,287.72 L72.50,287.26 L72.75,287.66 L73.00,286.93 L73.25,287.23 L73.50,287.53 L73.75,286.79 L74.00,286.99 L74.25,287.52 L74.50,287.76 L74.75,287.82 L75.00,286.88 L75.25,287.30 L75.50,287.57 L75.75,287.29 L76.00,287.48 L76.25,286.93 L76.50,286.80 L76.75,286.83 L77.00,286.75 L77.25,287.31 L77.50,287.27 L77.75,287.32 L78.00,286.85 L78.25,286.89 L78.50,286.90 L78.75,287.60 L79.00,287.76 L79.25,287.68 L79.50,286.76 L79.75,286.72 L80.00,287.70 L80.25,287.15 L80.50,287.48 L80.75,286.99 L81.00,287.14 L81.25,287.19 L81.50,287.09 L81.75,287.28 L82.00,286.62 L82.25,287.38 L82.50,287.53 L82.75,286.79 L83.00,287.09 L83.25,287.40 L83.50,287.03 L83.75,286.79 L84.00,286.75 L84.25,287.13 L84.50,286.58 L84.75,287.54 L85.00,287.43 L85.25,287.32 L85.50,287.49 L85.75,287.23 L86.00,286.97 L86.25,287.18 L86.50,287.07 L86.75,287.60 L87.00,287.40 L87.25,286.79 L87.50,287.50 L87.75,287.31 L88.00,287.35 L88.25,287.38 L88.50,286.93 L88.75,287.46 L89.00,287.44 L89.25,287.23 L89.50,287.30 L89.75,287.30 L90.00,286.90 L90.25,287.24 L90.50,286.51 L90.75,286.80 L91.00,286.93 L91.25,286.42 L91.50,286.79 L91.75,287.09 L92.00,287.07 L92.25,286.63 L92.50,287.41 L92.75,287.09 L93.00,286.72 L93.25,287.07 L93.50,286.96 L93.75,286.91 L94.00,286.74 L94.25,287.41 L94.50,287.01 L94.75,287.06 L95.00,287.12 L95.25,287.35 L95.50,286.29 L95.75,286.93 L96.00,287.06 L96.25,286.51 L96.50,286.66 L96.75,286.26 L97.00,286.40 L97.25,286.59 L97.50,286.27 L97.75,286.42 L98.00,287.12 L98.25,286.71 L98.50,286.64 L98.75,287.13 L99.00,286.67 L99.25,287.11 L99.50,286.69 L99.75,286.84 L100.00,286.00 L100.25,286.50 L100.50,286.61 L100.75,285.74 L101.00,286.62 L101.25,285.67 L101.50,285.89 L101.75,285.42 L102.00,285.61 L102.25,285.55 L102.50,284.72 L102.68,284.95 L102.80,283.80 L102.92,285.06 L103.00,285.03 L103.25,285.40 L103.50,285.55 L103.75,285.10 L104.00,284.78 L104.25,284.90 L104.50,284.45 L104.58,284.14 L104.70,282.00 L104.82,284.37 L105.00,284.93 L105.25,284.96 L105.50,284.59 L105.75,284.62 L106.00,284.11 L106.25,283.89 L106.48,283.72 L106.60,281.50 L106.72,283.87 L106.75,283.75 L107.00,284.71 L107.25,284.78 L107.50,283.72 L107.75,284.39 L108.00,283.91 L108.25,282.43 L108.38,282.39 L108.50,278.30 L108.62,282.90 L108.75,283.25 L109.00,284.35 L109.25,285.21 L109.50,284.20 L109.75,284.24 L110.00,284.35 L110.25,283.66 L110.28,283.20 L110.40,280.50 L110.52,283.42 L110.75,284.38 L111.00,284.70 L111.25,284.22 L111.50,283.38 L111.75,283.56 L112.00,282.90 L112.25,282.02 L112.28,282.07 L112.40,277.60 L112.52,282.63 L112.75,283.60 L113.00,284.31 L113.25,284.51 L113.50,284.56 L113.75,284.08 L114.00,283.55 L114.18,283.40 L114.30,281.00 L114.42,283.60 L114.50,283.61 L114.75,284.48 L115.00,284.42 L115.25,284.75 L115.50,284.47 L115.75,283.94 L116.00,283.03 L116.25,282.44 L116.28,282.65 L116.40,279.00 L116.52,283.13 L116.75,284.22 L117.00,285.02 L117.25,284.67 L117.50,284.51 L117.75,284.88 L118.00,284.63 L118.25,284.53 L118.50,284.40 L118.75,284.32 L119.00,283.43 L119.25,283.15 L119.38,283.09 L119.50,280.30 L119.62,283.45 L119.75,284.21 L120.00,284.91 L120.25,284.24 L120.50,284.17 L120.75,284.29 L121.00,284.32 L121.25,284.36 L121.50,283.56 L121.75,283.76 L122.00,282.89 L122.25,282.46 L122.28,282.71 L122.40,279.00 L122.52,283.20 L122.75,284.05 L123.00,285.14 L123.25,284.83 L123.50,284.91 L123.75,284.57 L124.00,284.66 L124.25,285.03 L124.50,285.05 L124.75,284.10 L125.00,284.02 L125.25,284.62 L125.50,284.21 L125.75,284.11 L126.00,283.17 L126.25,282.98 L126.28,282.87 L126.40,279.40 L126.52,283.33 L126.75,284.43 L127.00,284.88 L127.25,285.17 L127.50,285.49 L127.75,284.71 L128.00,284.89 L128.25,285.02 L128.50,285.09 L128.75,284.40 L129.00,284.15 L129.25,283.61 L129.48,283.68 L129.60,281.10 L129.72,284.03 L129.75,283.56 L130.00,284.27 L130.25,285.37 L130.50,285.29 L130.75,285.51 L131.00,285.09 L131.25,285.61 L131.50,284.84 L131.75,284.98 L132.00,285.46 L132.25,284.80 L132.50,285.01 L132.75,285.43 L133.00,285.33 L133.25,284.79 L133.50,284.51 L133.75,284.58 L133.98,284.47 L134.10,282.50 L134.22,284.67 L134.25,284.53 L134.50,284.69 L134.75,285.69 L135.00,285.54 L135.25,285.92 L135.50,285.93 L135.75,285.89 L136.00,285.34 L136.25,285.71 L136.50,285.12 L136.75,285.08 L137.00,285.09 L137.25,285.57 L137.50,285.39 L137.75,284.49 L138.00,284.37 L138.25,284.04 L138.28,284.02 L138.40,281.10 L138.52,284.32 L138.75,284.70 L139.00,285.31 L139.25,285.05 L139.50,285.39 L139.75,285.56 L140.00,285.14 L140.25,285.29 L140.38,284.73 L140.50,282.50 L140.62,284.91 L140.75,284.71 L141.00,285.74 L141.25,286.03 L141.50,285.37 L141.75,285.09 L142.00,285.63 L142.25,285.66 L142.50,285.68 L142.75,286.11 L143.00,285.75 L143.25,285.90 L143.50,285.06 L143.75,285.56 L144.00,285.79 L144.25,284.96 L144.50,284.88 L144.75,285.51 L145.00,285.56 L145.25,284.50 L145.38,284.80 L145.50,283.00 L145.62,284.99 L145.75,284.76 L146.00,285.82 L146.25,285.87 L146.50,285.43 L146.75,285.40 L147.00,286.00 L147.25,285.72 L147.50,285.98 L147.75,285.56 L148.00,285.48 L148.25,286.15 L148.50,285.79 L148.75,285.56 L149.00,285.55 L149.25,285.68 L149.50,285.57 L149.75,285.67 L150.00,284.95 L150.08,284.93 L150.20,283.20 L150.32,285.11 L150.50,285.52 L150.75,286.11 L151.00,286.13 L151.25,286.16 L151.50,286.22 L151.75,286.30 L152.00,285.94 L152.25,285.80 L152.50,286.00 L152.75,286.08 L153.00,285.64 L153.25,285.61 L153.50,285.27 L153.75,285.88 L154.00,286.09 L154.25,285.33 L154.50,284.99 L154.75,284.89 L154.88,285.07 L155.00,283.50 L155.12,285.24 L155.25,285.15 L155.50,286.24 L155.75,285.37 L156.00,285.65 L156.25,285.43 L156.50,286.01 L156.75,286.14 L157.00,285.48 L157.25,285.33 L157.50,285.75 L157.75,285.86 L158.00,286.19 L158.25,285.18 L158.50,285.20 L158.75,285.21 L159.00,285.14 L159.25,285.03 L159.48,285.11 L159.60,283.50 L159.72,285.28 L159.75,285.39 L160.00,285.34 L160.25,285.58 L160.50,285.68 L160.75,285.56 L161.00,286.20 L161.25,285.71 L161.50,285.96 L161.75,286.25 L162.00,285.87 L162.25,285.61 L162.50,286.27 L162.75,286.27 L163.00,285.61 L163.25,285.78 L163.50,286.16 L163.75,285.55 L164.00,285.15 L164.18,285.31 L164.30,284.00 L164.42,285.45 L164.50,286.00 L164.75,286.13 L165.00,285.84 L165.25,286.00 L165.50,285.99 L165.75,285.72 L166.00,286.50 L166.25,286.13 L166.50,285.66 L166.75,285.39 L167.00,285.87 L167.25,285.73 L167.50,286.16 L167.75,286.02 L168.00,285.83 L168.25,285.25 L168.50,285.15 L168.75,285.19 L169.00,284.96 L169.25,285.42 L169.50,284.77 L169.75,284.58 L169.98,283.94 L170.10,276.80 L170.22,284.44 L170.25,284.18 L170.50,285.46 L170.75,285.82 L171.00,286.50 L171.25,285.63 L171.50,286.50 L171.75,286.46 L172.00,286.32 L172.25,285.32 L172.38,285.53 L172.50,277.80 L172.62,285.67 L172.75,286.05 L173.00,285.73 L173.25,286.31 L173.50,286.31 L173.75,286.85 L174.00,286.46 L174.25,286.76 L174.50,286.16 L174.75,286.71 L175.00,286.31 L175.25,286.85 L175.50,285.94 L175.75,286.75 L176.00,286.06 L176.25,286.43 L176.50,286.41 L176.75,286.00 L177.00,286.73 L177.25,286.16 L177.50,286.15 L177.75,285.89 L178.00,286.14 L178.25,286.31 L178.50,286.58 L178.75,286.19 L179.00,286.54 L179.25,285.90 L179.50,286.21 L179.75,286.28 L180.00,286.84 L180.25,286.68 L180.50,286.48 L180.75,285.77 L181.00,286.17 L181.25,286.53 L181.50,286.01 L181.75,286.37 L182.00,286.25 L182.25,285.75 L182.50,286.82 L182.75,286.61 L183.00,285.95 L183.25,286.40 L183.50,286.04 L183.75,286.13 L184.00,286.30 L184.25,286.03 L184.50,286.07 L184.75,286.12 L185.00,286.42 L185.25,285.96 L185.50,285.89 L185.75,286.47 L186.00,286.01 L186.25,286.68 L186.50,286.24 L186.75,286.40 L187.00,285.95 L187.25,286.47 L187.50,285.62 L187.75,285.63 L188.00,285.53 L188.25,286.10 L188.50,286.04 L188.75,285.34 L189.00,285.44 L189.25,285.73 L189.50,285.22 L189.75,284.36 L190.00,284.11 L190.25,283.52 L190.48,283.08 L190.60,276.90 L190.72,283.52 L190.75,283.41 L191.00,284.00 L191.25,285.58 L191.50,284.67 L191.75,284.27 L192.00,283.75 L192.08,283.07 L192.20,279.00 L192.32,283.18 L192.50,283.79 L192.75,283.61 L193.00,282.94 L193.25,281.94 L193.50,282.50 L193.75,284.47 L194.00,285.60 L194.25,285.63 L194.50,285.01 L194.75,284.27 L195.00,283.33 L195.08,282.51 L195.20,273.60 L195.32,282.58 L195.50,282.70 L195.75,283.06 L196.00,282.68 L196.25,280.82 L196.50,282.47 L196.75,284.68 L197.00,286.22 L197.25,286.25 L197.50,286.01 L197.75,285.50 L198.00,286.16 L198.25,286.30 L198.50,285.90 L198.75,285.68 L199.00,285.83 L199.25,285.43 L199.50,286.05 L199.75,286.34 L200.00,285.82 L200.25,286.04 L200.50,286.17 L200.75,285.46 L201.00,286.28 L201.25,285.93 L201.50,285.46 L201.75,285.33 L202.00,285.51 L202.25,285.87 L202.50,286.00 L202.75,285.59 L203.00,286.25 L203.25,285.63 L203.50,285.74 L203.75,285.36 L204.00,286.29 L204.25,285.37 L204.50,286.21 L204.75,285.81 L205.00,285.83 L205.25,285.83 L205.50,285.50 L205.75,286.21 L206.00,286.29 L206.25,286.10 L206.50,285.86 L206.75,285.32 L207.00,286.09 L207.25,285.49 L207.50,286.15 L207.75,285.42 L208.00,285.77 L208.25,286.04 L208.50,285.31 L208.75,285.68 L209.00,285.13 L209.25,285.04 L209.50,285.14 L209.75,285.96 L210.00,285.82 L210.25,285.40 L210.50,284.87 L210.75,285.08 L211.00,284.92 L211.25,284.22 L211.38,284.04 L211.50,281.00 L211.62,284.25 L211.75,284.78 L212.00,284.38 L212.25,284.65 L212.50,284.73 L212.75,284.10 L212.88,284.23 L213.00,280.50 L213.12,284.54 L213.25,284.88 L213.50,285.09 L213.75,285.73 L214.00,285.45 L214.25,285.78 L214.50,285.52 L214.75,285.86 L215.00,285.19 L215.25,285.89 L215.50,285.30 L215.75,286.20 L216.00,285.80 L216.25,285.66 L216.50,285.59 L216.75,285.82 L217.00,285.89 L217.25,285.96 L217.50,285.95 L217.75,285.65 L218.00,286.21 L218.25,286.03 L218.50,286.04 L218.75,285.54 L219.00,285.56 L219.25,285.68 L219.50,286.04 L219.75,285.59 L220.00,285.56 L220.25,285.41 L220.50,285.87 L220.75,285.15 L221.00,284.75 L221.25,285.35 L221.50,285.37 L221.75,284.95 L222.00,284.49 L222.25,284.25 L222.50,283.22 L222.75,282.82 L223.00,281.31 L223.25,280.13 L223.50,278.85 L223.75,276.75 L224.00,273.78 L224.25,269.64 L224.50,274.93 L224.75,281.57 L225.00,285.35 L225.25,285.42 L225.50,285.52 L225.75,285.34 L226.00,285.15 L226.25,286.08 L226.50,286.14 L226.75,285.80 L227.00,286.02 L227.25,285.53 L227.50,285.95 L227.75,285.31 L228.00,285.88 L228.25,285.69 L228.50,286.05 L228.75,285.17 L229.00,285.93 L229.25,285.19 L229.50,285.64 L229.75,286.10 L230.00,285.05 L230.25,285.32 L230.50,285.38 L230.75,285.41 L231.00,285.13 L231.25,286.05 L231.50,285.96 L231.75,285.50 L232.00,285.46 L232.25,285.72 L232.50,285.12 L232.75,285.11 L233.00,286.07 L233.25,285.42 L233.50,285.63 L233.75,286.11 L234.00,286.16 L234.25,285.61 L234.50,285.32 L234.75,285.42 L235.00,286.11 L235.25,286.08 L235.50,285.32 L235.75,286.02 L236.00,285.49 L236.25,285.62 L236.50,285.29 L236.75,286.07 L237.00,286.20 L237.25,285.32 L237.50,285.79 L237.75,285.31 L238.00,286.06 L238.25,285.14 L238.50,285.19 L238.75,285.86 L239.00,285.39 L239.25,286.01 L239.50,285.95 L239.75,285.74 L240.00,285.06 L240.25,285.61 L240.50,285.80 L240.75,285.16 L241.00,284.63 L241.25,284.63 L241.38,284.78 L241.50,283.00 L241.62,284.92 L241.75,285.27 L242.00,285.01 L242.25,285.09 L242.50,285.10 L242.75,285.52 L243.00,285.59 L243.25,285.05 L243.50,285.27 L243.75,285.40 L244.00,284.94 L244.25,284.38 L244.50,284.26 L244.75,284.72 L245.00,284.17 L245.25,283.42 L245.50,283.44 L245.75,282.38 L246.00,283.57 L246.25,284.27 L246.50,285.65 L246.75,285.62 L247.00,285.05 L247.25,285.61 L247.50,285.20 L247.75,285.09 L248.00,285.60 L248.25,284.70 L248.50,284.77 L248.75,285.11 L249.00,284.33 L249.25,284.10 L249.50,284.06 L249.75,283.26 L250.00,283.53 L250.25,283.01 L250.50,281.19 L250.75,280.71 L251.00,279.86 L251.25,280.61 L251.50,284.03 L251.75,285.82 L252.00,285.47 L252.25,285.88 L252.50,285.98 L252.75,285.67 L253.00,286.00 L253.25,286.14 L253.50,285.85 L253.75,285.84 L254.00,286.22 L254.25,286.04 L254.50,285.86 L254.75,286.34 L255.00,285.49 L255.25,286.15 L255.50,285.48 L255.75,285.97 L256.00,285.56 L256.25,285.79 L256.50,286.15 L256.75,286.17 L257.00,286.18 L257.25,285.56 L257.50,285.84 L257.75,285.55 L258.00,285.94 L258.25,285.85 L258.50,285.34 L258.75,285.95 L259.00,286.07 L259.25,285.91 L259.50,286.23 L259.75,285.46 L260.00,285.42 L260.25,285.26 L260.50,285.76 L260.75,285.67 L261.00,285.65 L261.25,285.42 L261.50,285.97 L261.75,285.13 L262.00,286.00 L262.25,285.57 L262.50,285.47 L262.75,285.66 L263.00,284.95 L263.25,284.74 L263.50,284.79 L263.75,284.34 L263.98,284.62 L264.10,282.40 L264.22,284.81 L264.25,284.95 L264.50,285.24 L264.75,285.25 L265.00,285.55 L265.25,284.93 L265.50,285.67 L265.75,284.87 L266.00,284.86 L266.25,284.65 L266.50,285.10 L266.75,285.11 L267.00,284.90 L267.25,283.91 L267.50,284.07 L267.75,283.77 L268.00,283.32 L268.25,283.81 L268.28,283.15 L268.40,272.80 L268.52,283.71 L268.75,284.55 L269.00,285.91 L269.25,286.13 L269.50,285.16 L269.75,285.46 L270.00,285.73 L270.25,284.91 L270.50,285.07 L270.75,285.71 L271.00,284.82 L271.25,285.01 L271.50,284.80 L271.75,284.83 L272.00,284.33 L272.25,284.14 L272.50,285.04 L272.75,284.60 L273.00,284.37 L273.25,283.58 L273.50,283.35 L273.75,283.38 L274.00,282.71 L274.25,282.57 L274.50,282.66 L274.75,283.47 L275.00,284.87 L275.25,286.13 L275.50,285.70 L275.75,285.04 L276.00,285.41 L276.25,285.64 L276.50,284.95 L276.75,285.22 L277.00,285.55 L277.25,285.68 L277.50,285.31 L277.75,285.56 L278.00,285.02 L278.25,284.85 L278.50,285.24 L278.75,284.62 L279.00,284.93 L279.25,284.16 L279.50,284.15 L279.75,283.78 L280.00,283.98 L280.25,283.33 L280.50,283.11 L280.75,282.83 L281.00,282.78 L281.25,282.23 L281.50,281.97 L281.75,283.85 L282.00,284.77 L282.25,285.45 L282.50,284.67 L282.75,284.80 L283.00,284.39 L283.25,285.00 L283.50,284.56 L283.75,284.38 L284.00,284.01 L284.25,284.09 L284.50,284.08 L284.75,284.11 L285.00,284.57 L285.25,284.21 L285.50,283.58 L285.75,283.54 L286.00,283.15 L286.25,283.84 L286.50,283.01 L286.75,283.26 L287.00,282.99 L287.25,282.95 L287.50,281.71 L287.75,281.74 L288.00,281.48 L288.25,280.77 L288.50,281.21 L288.75,280.08 L289.00,279.94 L289.25,278.87 L289.48,277.59 L289.60,270.00 L289.72,277.32 L289.75,277.20 L290.00,276.89 L290.25,276.22 L290.48,275.18 L290.60,263.00 L290.72,275.06 L290.75,275.16 L291.00,274.81 L291.25,275.13 L291.50,274.46 L291.75,277.02 L292.00,281.17 L292.25,285.46 L292.50,284.88 L292.75,285.29 L293.00,285.11 L293.25,284.41 L293.50,284.32 L293.75,284.23 L294.00,284.50 L294.25,283.93 L294.50,283.64 L294.75,283.86 L295.00,282.80 L295.25,282.46 L295.50,282.04 L295.58,281.89 L295.70,270.30 L295.82,282.73 L296.00,283.17 L296.25,284.72 L296.50,285.66 L296.75,285.52 L297.00,285.70 L297.25,285.77 L297.50,284.90 L297.75,285.15 L298.00,285.22 L298.25,284.20 L298.50,284.42 L298.75,284.03 L298.78,283.68 L298.90,275.20 L299.02,284.11 L299.25,285.21 L299.50,285.38 L299.75,285.78 L300.00,285.15 L300.25,285.48 L300.50,285.39 L300.75,284.97 L301.00,285.25 L301.25,285.10 L301.50,285.17 L301.75,284.80 L302.00,284.50 L302.25,284.56 L302.38,284.47 L302.50,281.50 L302.62,284.59 L302.75,284.34 L303.00,285.17 L303.25,284.76 L303.50,284.50 L303.75,284.66 L304.00,284.63 L304.25,284.19 L304.50,284.50 L304.75,284.45 L305.00,284.09 L305.25,284.03 L305.50,283.03 L305.75,283.15 L306.00,282.80 L306.25,282.11 L306.48,282.09 L306.60,268.80 L306.72,282.93 L306.75,282.44 L307.00,284.47 L307.25,285.78 L307.50,285.61 L307.75,285.39 L308.00,285.24 L308.25,284.90 L308.50,285.15 L308.75,285.60 L309.00,285.07 L309.25,284.51 L309.50,284.67 L309.58,284.27 L309.70,276.50 L309.82,284.53 L310.00,284.83 L310.25,285.54 L310.50,285.98 L310.75,285.27 L311.00,285.45 L311.25,285.79 L311.50,285.52 L311.75,285.28 L312.00,285.17 L312.25,284.84 L312.50,284.72 L312.75,284.43 L313.00,284.89 L313.25,284.77 L313.50,284.03 L313.75,284.40 L314.00,283.20 L314.25,283.03 L314.50,283.14 L314.68,282.79 L314.80,271.30 L314.92,283.51 L315.00,283.63 L315.25,285.64 L315.50,285.53 L315.75,285.56 L316.00,285.59 L316.25,286.06 L316.50,285.54 L316.75,285.24 L317.00,285.79 L317.25,285.55 L317.50,285.30 L317.75,285.47 L318.00,285.50 L318.25,285.20 L318.28,285.06 L318.40,281.10 L318.52,285.26 L318.75,285.65 L319.00,286.36 L319.25,286.51 L319.50,285.81 L319.75,285.83 L320.00,286.42" fill="none" stroke="#000" stroke-width="0.85" stroke-linejoin="round"/>
<line x1="193.5" y1="282.54" x2="193.5" y2="265.9" stroke="#383838" stroke-width="1"/>
<line x1="196.5" y1="281.75" x2="196.5" y2="236.2" stroke="#383838" stroke-width="1"/>
<line x1="224.5" y1="270.64" x2="224.5" y2="194.6" stroke="#383838" stroke-width="1"/>
<line x1="245.5" y1="283.13" x2="245.5" y2="264.8" stroke="#383838" stroke-width="1"/>
<line x1="251.5" y1="279.82" x2="251.5" y2="229.4" stroke="#383838" stroke-width="1"/>
<line x1="274.5" y1="282.77" x2="274.5" y2="256.8" stroke="#383838" stroke-width="1"/>
<line x1="281.5" y1="282.62" x2="281.5" y2="254.1" stroke="#383838" stroke-width="1"/>
<line x1="291.5" y1="274.87" x2="291.5" y2="254.7" stroke="#383838" stroke-width="1"/>
<text x="0" y="0" font-size="10.35" transform="translate(310.0 265.7) rotate(-90)">N<tspan font-size="6.3" dy="3.8">2</tspan><tspan dy="-3.8"> (399.84nm)</tspan></text>
</svg>
</body></html>
